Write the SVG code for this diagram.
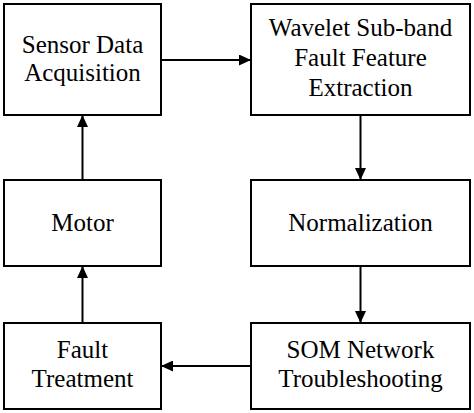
<svg xmlns="http://www.w3.org/2000/svg" width="474" height="413" viewBox="0 0 474 413">
<style>
.box{fill:#fff;stroke:#000;stroke-width:2}
.t{font-family:'Liberation Serif','Times New Roman',serif;font-size:25px;fill:#000;text-anchor:middle}
.c{stroke:#000;stroke-width:2;fill:none;marker-end:url(#ah)}
</style>
<defs>
<marker id="ah" markerWidth="12" markerHeight="11" refX="12" refY="5.5" orient="auto" markerUnits="userSpaceOnUse">
<path d="M0,0 L12,5.5 L0,11 Z" fill="#000"/>
</marker>
</defs>
<rect width="474" height="413" fill="#fff"/>
<g id="connectors">
<line class="c" x1="161" y1="60" x2="251" y2="60"/>
<line class="c" x1="360.5" y1="115" x2="360.5" y2="180"/>
<line class="c" x1="360.5" y1="266" x2="360.5" y2="323"/>
<line class="c" x1="251" y1="366" x2="161" y2="366"/>
<line class="c" x1="82.5" y1="323" x2="82.5" y2="266"/>
<line class="c" x1="82.5" y1="180" x2="82.5" y2="115"/>
</g>
<g id="sensor">
<rect class="box" x="4" y="4" width="157" height="111"/>
<text class="t" x="82.5" y="52.5">Sensor Data</text>
<text class="t" x="82.5" y="81">Acquisition</text>
</g>
<g id="wavelet">
<rect class="box" x="251" y="4" width="219" height="111"/>
<text class="t" x="360.5" y="36">Wavelet Sub-band</text>
<text class="t" x="360.5" y="66">Fault Feature</text>
<text class="t" x="360.5" y="96">Extraction</text>
</g>
<g id="motor">
<rect class="box" x="4" y="180" width="157" height="86"/>
<text class="t" x="82.5" y="231">Motor</text>
</g>
<g id="normalization">
<rect class="box" x="251" y="180" width="219" height="86"/>
<text class="t" x="360.5" y="231">Normalization</text>
</g>
<g id="fault">
<rect class="box" x="4" y="323" width="157" height="86"/>
<text class="t" x="82.5" y="358">Fault</text>
<text class="t" x="82.5" y="387">Treatment</text>
</g>
<g id="som">
<rect class="box" x="251" y="323" width="219" height="86"/>
<text class="t" x="360.5" y="358">SOM Network</text>
<text class="t" x="360.5" y="387">Troubleshooting</text>
</g>
</svg>
